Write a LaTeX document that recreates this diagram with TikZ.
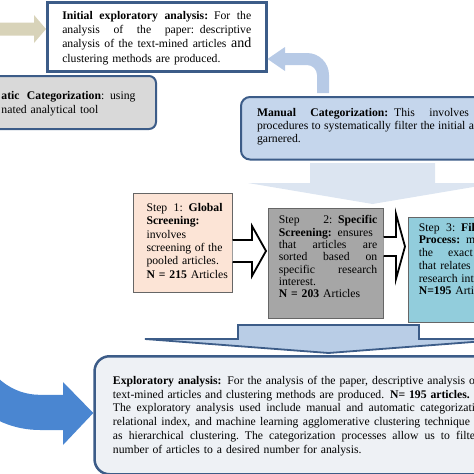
\documentclass[tikz,border=0pt]{standalone}
\usepackage{fontspec}
\setmainfont{Liberation Serif}
\usepackage{tikz}
\usetikzlibrary{calc}
\definecolor{frameblue}{HTML}{3C5C88}
\definecolor{autogray}{HTML}{D9D9D9}
\definecolor{manualblue}{HTML}{C5D6EC}
\definecolor{peach}{HTML}{FCE4D6}
\definecolor{stepgray}{HTML}{A6A6A6}
\definecolor{stepcyan}{HTML}{92CDDC}
\definecolor{paleback}{HTML}{EEF1F5}
\definecolor{khaki}{HTML}{D8D3B9}
\definecolor{skyarrow}{HTML}{B7CAE6}
\definecolor{fadearrow}{HTML}{DCE5F1}
\definecolor{downfill}{HTML}{B9CDE6}
\definecolor{bluearrow}{HTML}{4A86D1}
% justified line of a given width
\newcommand{\jline}[2]{\makebox[#1][s]{\spaceskip=.25em plus 1fil minus .08em\relax #2}}

\begin{document}
\begin{tikzpicture}[x=1pt, y=-1pt,
    textbox/.style={anchor=north west, align=left, inner ysep=0pt},
    stepbox/.style={textbox, draw=black!60, line width=1pt},
    blockarrow/.style={draw=black, line width=1.8pt, fill=white, line join=miter}]
    \useasboundingbox (0,0) rectangle (474,474);
    \clip (0,0) rectangle (474,474);

    % Analysis boxes
    \node[textbox, draw=frameblue, line width=2.5pt, fill=white, text width=189pt, inner xsep=15pt,
          text height=17.3pt, text depth=51.7pt, font=\fontsize{11.7}{14.2}\selectfont] (initial) at (46,1)
        {\jline{189pt}{\textbf{Initial exploratory analysis:} For the}\\
         \jline{189pt}{analysis of the paper: descriptive}\\
         \jline{189pt}{analysis of the text-mined articles {\fontsize{14}{14}\selectfont and}}\\
         \mbox{clustering methods are produced.}};
    \node[textbox, draw=frameblue, line width=2pt, fill=autogray, rounded corners=7pt, text width=134pt, inner xsep=20.5pt,
          text height=23pt, text depth=30pt, font=\fontsize{11.7}{14}\selectfont] (auto) at (-20,75)
        {\jline{134pt}{\textbf{atic Categorization}: using}\\
         \mbox{nated analytical tool}};
    \node[textbox, draw=frameblue, line width=2pt, fill=manualblue, rounded corners=9pt, text width=288pt, inner xsep=16pt,
          text height=19.7pt, text depth=42.8pt, font=\fontsize{11.7}{13}\selectfont] (manual) at (240,96)
        {\jline{212pt}{\textbf{Manual Categorization:} This involves}\\
         \jline{217pt}{procedures to systematically filter the initial a}\\
         \mbox{garnered.}};

    % Screening steps
    \node[stepbox, fill=peach, text width=73pt, inner xsep=12.7pt,
          text height=17.4pt, text depth=81pt, font=\fontsize{11.7}{13.4}\selectfont] (step1) at (133.3,193.3)
        {\jline{76pt}{Step 1: \textbf{Global}}\\
         \mbox{\textbf{Screening:}}\\
         \mbox{involves}\\
         \jline{76pt}{screening of the}\\
         \mbox{pooled articles.}\\
         \mbox{\textbf{N = 215} Articles}};
    \node[stepbox, fill=stepgray, text width=94.4pt, inner xsep=10pt,
          text height=15pt, text depth=94.4pt, font=\fontsize{11.7}{12.35}\selectfont] (step2) at (268.3,208.3)
        {\jline{98.4pt}{Step 2: \textbf{Specific}}\\
         \jline{98.4pt}{\textbf{Screening:} ensures}\\
         \jline{98.4pt}{that articles are}\\
         \jline{98.4pt}{sorted based on}\\
         \jline{98.4pt}{specific research}\\
         \mbox{interest.}\\
         \mbox{\textbf{N = 203} Articles}};
    \node[stepbox, fill=stepcyan, text width=94.4pt, inner xsep=10pt,
          text height=14pt, text depth=91pt, font=\fontsize{11.7}{12.7}\selectfont] (step3) at (408.3,216.7)
        {\jline{56pt}{Step 3: \textbf{Fil}}\\
         \jline{54pt}{\textbf{Process:} m}\\
         \jline{54pt}{the exact}\\
         \mbox{that relates}\\
         \jline{55pt}{research int}\\
         \mbox{\textbf{N=195} Arti}};

    % Result box
    \node[textbox, draw=frameblue, line width=2.5pt, fill=paleback, rounded corners=15pt, text width=470pt, inner xsep=18.4pt,
          text height=28.3pt, text depth=89.7pt, font=\fontsize{11.7}{13.7}\selectfont] (explore) at (93.3,355)
        {\jline{362pt}{\textbf{Exploratory analysis:} For the analysis of the paper, descriptive analysis o}\\
         \mbox{text-mined articles and clustering methods are produced. \textbf{N= 195 articles.}}\\
         \jline{362pt}{The exploratory analysis used include manual and automatic categorizati}\\
         \jline{357pt}{relational index, and machine learning agglomerative clustering technique}\\
         \jline{362pt}{as hierarchical clustering. The categorization processes allow us to filte}\\
         \mbox{number of articles to a desired number for analysis.}};

    % Flow arrows
    \fill[khaki] (-5,22.5) -- (34,22.5) -- (34,15) -- (initial.west |- 0,29) -- (34,43) -- (34,35.5) -- (-5,35.5) -- cycle;
    \fill[skyarrow] (317,93) -- (317,75) arc[start angle=0, end angle=-90, radius=10] -- (285,65) -- (285,71)
        -- (initial.east |- 0,59) -- (285,47) -- (285,53) -- (307,53) arc[start angle=-90, end angle=0, radius=22]
        -- (329,93) -- cycle;
    \fill[fadearrow] (310,163) -- (435,163) -- (435,183) -- (497,183) -- (372.5,204) -- (248,183) -- (310,183) -- cycle;
    \filldraw[blockarrow] (step1.east |- 0,240) -- (252,240) -- (252,226) -- (266,251) -- (252,276) -- (252,262) -- (step1.east |- 0,262);
    \filldraw[blockarrow] (step2.east |- 0,237) -- (396,237) -- (396,214) -- (405,246.5) -- (396,279) -- (396,256) -- (step2.east |- 0,256);
    \filldraw[fill=downfill, draw=frameblue, line width=1.8pt, line join=miter]
        (238,325) -- (419,325) -- (419,339) -- (512,339) -- (328.5,353) -- (145,339) -- (238,339) -- cycle;
    \fill[bluearrow] (-20.8,334) arc[start angle=180, end angle=90, radius=60.8] -- (63,394.8) -- (63,382)
        -- (explore.west |- 0,413) -- (63,445) -- (63,430) -- (40,430) arc[start angle=90, end angle=180, radius=96] -- cycle;
\end{tikzpicture}
\end{document}
